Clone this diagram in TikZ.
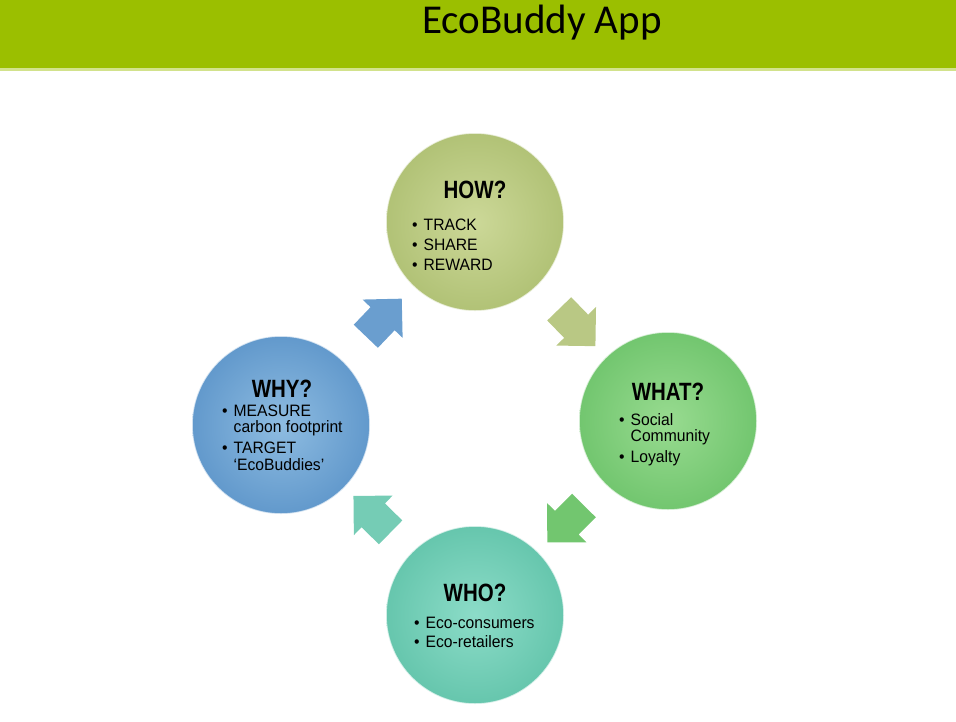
\documentclass[tikz,border=0pt]{standalone}
\usepackage{fontspec}
\setmainfont[FakeStretch=0.95]{Liberation Sans}
\newfontfamily\headfont[FakeStretch=0.82]{Liberation Sans}
\newfontfamily\titlefont{Carlito}
\usetikzlibrary{shapes.arrows,positioning}
\definecolor{banner}{HTML}{9BBF00}
\definecolor{howin}{HTML}{CCD898}\definecolor{howout}{HTML}{B1C276}
\definecolor{whatin}{HTML}{98DB90}\definecolor{whatout}{HTML}{72C66F}
\definecolor{whoin}{HTML}{8CDCC8}\definecolor{whoout}{HTML}{66C6AD}
\definecolor{whyin}{HTML}{8EBCE1}\definecolor{whyout}{HTML}{6299CC}

\begin{document}
\begin{tikzpicture}[x=1pt,y=-1pt,
  bubble/.style={circle,minimum size=178pt,inner sep=0pt,draw=white,draw opacity=0.7,line width=1.5pt},
  head/.style={inner sep=0pt,font=\headfont\bfseries\fontsize{25}{25}\selectfont},
  items/.style={anchor=base west,inner sep=0pt,font=\fontsize{16.5}{16.5}\selectfont},
  blockarrow/.style={single arrow,draw=none,minimum height=52pt,inner xsep=0pt,inner ysep=16.5pt,
    single arrow head extend=11pt,single arrow tip angle=90,sloped,allow upside down}]
\useasboundingbox (0,0) rectangle (956,721);
% banner
\fill[banner] (0,0) rectangle (956,68);
\fill[banner!45!white] (0,68) rectangle (956,71);
\node[anchor=base,inner sep=0pt,font=\titlefont\fontsize{41}{41}\selectfont] (title) at (542,33) {EcoBuddy App};

% the four bubbles
\node[bubble,inner color=howin,outer color=howout] (how) at (475,222) {};
\node[bubble,inner color=whatin,outer color=whatout] (what) at (668,421) {};
\node[bubble,inner color=whoin,outer color=whoout] (who) at (475,615) {};
\node[bubble,inner color=whyin,outer color=whyout] (why) at (281,425) {};

% block arrows round the cycle
\path (why) -- node[blockarrow,fill=whyout!95!white] (a1) {} (how);
\path (how) -- node[blockarrow,fill=howout!90!white] (a2) {} (what);
\path (what) -- node[blockarrow,fill=whatout] (a3) {} (who);
\path (who) -- node[blockarrow,fill=whoout!90!white] (a4) {} (why);

% texts
\node[head] (howhead) at (475,190) {HOW?};
\node[items] (howlist) at (412,230) {\begin{tabular}[t]{@{}l@{\hspace{6pt}}l@{}}
  \textbullet&TRACK\\[3.5pt]\textbullet&SHARE\\[3.5pt]\textbullet&REWARD\end{tabular}};
\node[head] (whathead) at (668,392) {WHAT?};
\node[items] (whatlist) at (619,425) {\begin{tabular}[t]{@{}l@{\hspace{6pt}}l@{}}
  \textbullet&Social\\&Community\\[4pt]\textbullet&Loyalty\end{tabular}};
\node[head] (whohead) at (475,593) {WHO?};
\node[items] (wholist) at (414,628) {\begin{tabular}[t]{@{}l@{\hspace{6pt}}l@{}}
  \textbullet&Eco-consumers\\[3pt]\textbullet&Eco-retailers\end{tabular}};
\node[head] (whyhead) at (282,389) {WHY?};
\node[items] (whylist) at (222,416) {\begin{tabular}[t]{@{}l@{\hspace{6pt}}l@{}}
  \textbullet&MEASURE\\&carbon footprint\\[4.5pt]\textbullet&TARGET\\&‘EcoBuddies’\end{tabular}};
\end{tikzpicture}
\end{document}
